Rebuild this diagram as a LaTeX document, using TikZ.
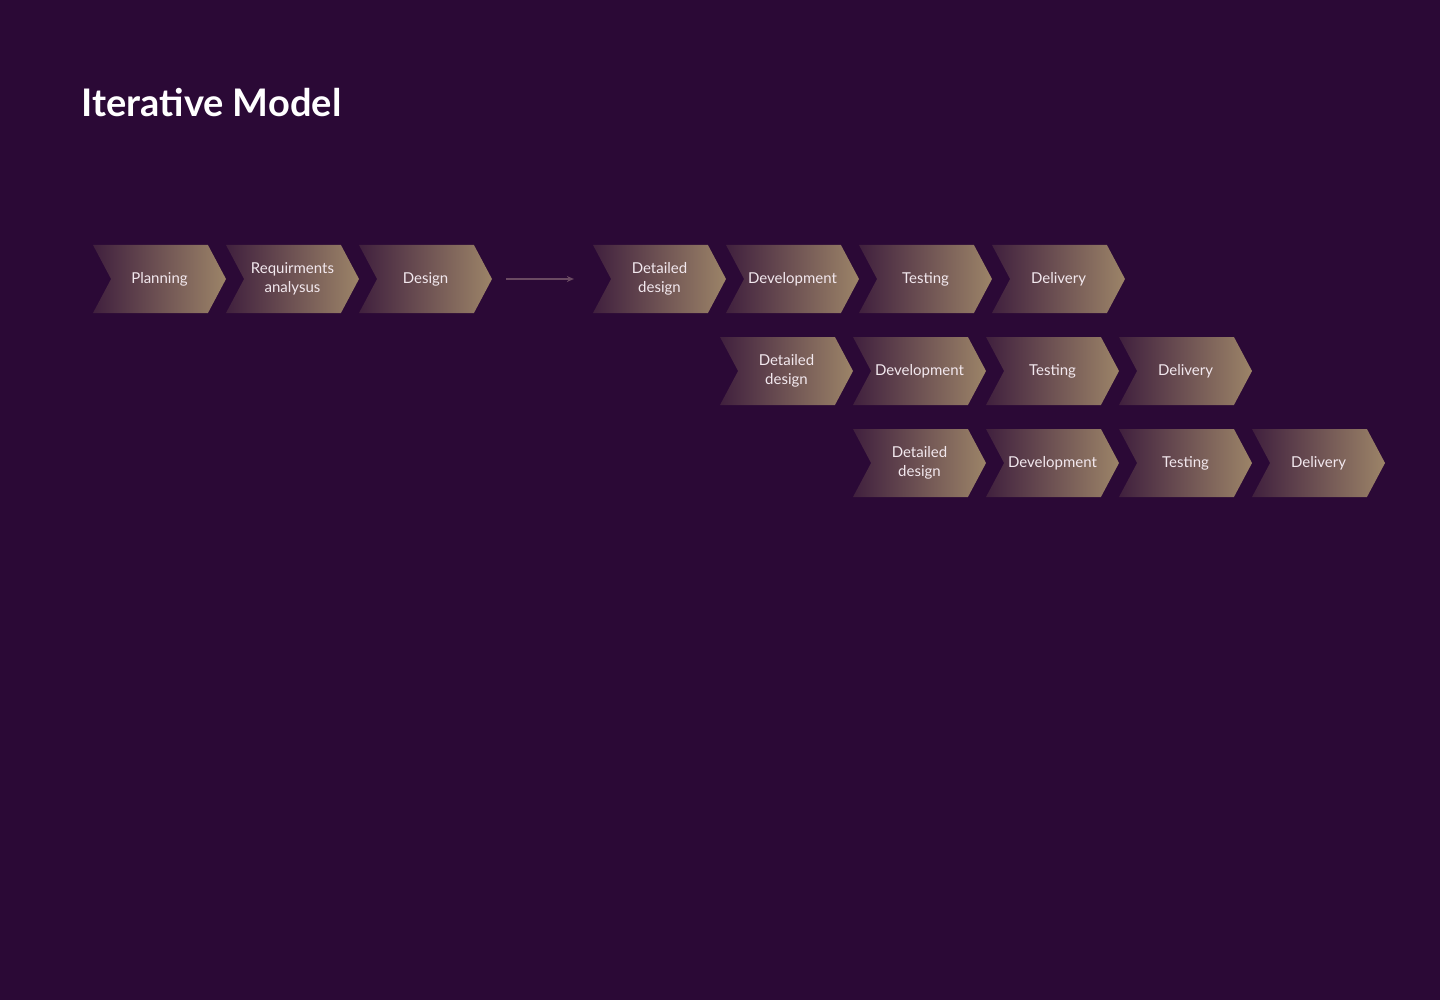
\documentclass[tikz,border=0pt]{standalone}
\usepackage{fontspec}
\setmainfont{Lato}
\usetikzlibrary{positioning,shapes.symbols,arrows.meta}

\definecolor{bg}{HTML}{2B0936}
\definecolor{stageL}{HTML}{40203E}
\definecolor{stageR}{HTML}{9C8468}
\definecolor{stageText}{HTML}{F2E8EE}
\definecolor{flowLine}{HTML}{6A4A62}

\tikzset{
	stage/.style={shape=signal, signal from=west, signal to=east,
		signal pointer angle=124, minimum width=133pt, minimum height=68pt,
		inner sep=0pt, left color=stageL, right color=stageR,
		text=stageText, align=center, font=\fontsize{15}{19}\selectfont},
	flow/.style={->, >={Stealth[length=7pt,width=6pt]}, draw=flowLine, line width=1.4pt},
}

\begin{document}
\begin{tikzpicture}[x=1pt, y=-1pt]
	\fill [bg] (0,0) rectangle (1440,1000);
	\node [anchor=base west, text=white, font=\bfseries\fontsize{38}{44}\selectfont] (title) at (78,117) {Iterative Model};

	% row 1
	\node [stage] (P) at (159.5,279) {Planning};
	\node [stage] (R) at ([xshift=133pt]P) {Requirments\\analysus};
	\node [stage] (D) at ([xshift=133pt]R) {Design};
	\node [stage] (DD1) at (659.5,279) {Detailed\\design};
	\node [stage] (DV1) at ([xshift=133pt]DD1) {Development};
	\node [stage] (T1) at ([xshift=133pt]DV1) {Testing};
	\node [stage] (DL1) at ([xshift=133pt]T1) {Delivery};
	\draw [flow, shorten <=14pt, shorten >=37pt] (D.east) -- (DD1.west);

	% row 2
	\node [stage] (DD2) at (786.5,371) {Detailed\\design};
	\node [stage] (DV2) at ([xshift=133pt]DD2) {Development};
	\node [stage] (T2) at ([xshift=133pt]DV2) {Testing};
	\node [stage] (DL2) at ([xshift=133pt]T2) {Delivery};

	% row 3
	\node [stage] (DD3) at (919.5,463) {Detailed\\design};
	\node [stage] (DV3) at ([xshift=133pt]DD3) {Development};
	\node [stage] (T3) at ([xshift=133pt]DV3) {Testing};
	\node [stage] (DL3) at ([xshift=133pt]T3) {Delivery};
\end{tikzpicture}
\end{document}
